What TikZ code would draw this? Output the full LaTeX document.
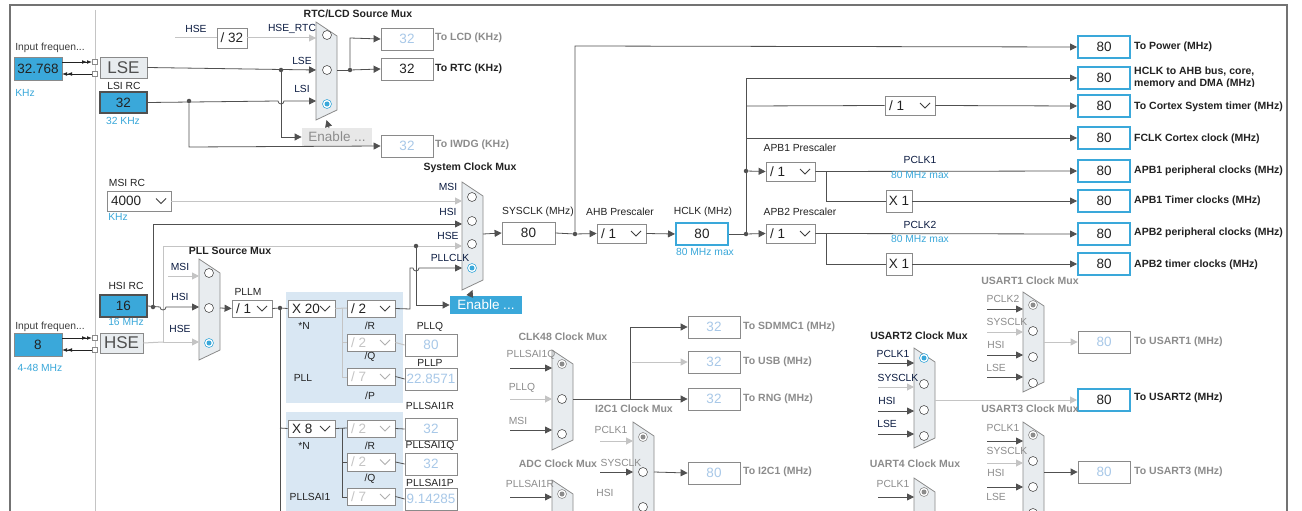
\documentclass[tikz,border=0pt]{standalone}
\usepackage{fontspec}
\setmainfont{Liberation Sans}
\usetikzlibrary{arrows.meta}
\definecolor{txt}{HTML}{222222}
\definecolor{dk}{HTML}{0A1A40}
\definecolor{gry}{HTML}{8C8C8C}
\definecolor{cy}{HTML}{3AA8DA}
\definecolor{lcy}{HTML}{A8C8E8}
\definecolor{ln}{HTML}{505050}
\definecolor{lln}{HTML}{C4C4C4}
\definecolor{bx}{HTML}{8A8A8A}
\definecolor{muxf}{HTML}{E8ECEF}
\definecolor{pan}{HTML}{D9E7F3}
\tikzset{
 lbl/.style={font=\fontsize{10.3}{11}\selectfont, text=txt, inner sep=0},
 blbl/.style={font=\bfseries\fontsize{10.5}{12}\selectfont, text=txt, inner sep=0},
 dlbl/.style={font=\fontsize{10.3}{11}\selectfont, text=dk, inner sep=0},
 glbl/.style={font=\bfseries\fontsize{10.5}{12}\selectfont, text=gry, inner sep=0},
 gl/.style={font=\fontsize{10.3}{11}\selectfont, text=gry, inner sep=0},
 clbl/.style={font=\fontsize{10.3}{11}\selectfont, text=cy, inner sep=0},
 box/.style={draw=bx, fill=white, line width=0.8pt, inner sep=0, font=\fontsize{13.5}{14}\selectfont, text=txt},
 gbox/.style={box, text=lcy},
 obox/.style={box, draw=cy, line width=2pt},
 bbox/.style={box, fill=cy, draw=bx, text=txt},
 bbox2/.style={box, fill=cy, draw=ln, line width=1.5pt, text=txt},
 sbox/.style={box, fill=muxf, draw=bx, font=\fontsize{17}{18}\selectfont, text=ln},
 ar/.style={draw=ln, line width=0.8pt, -{Triangle[length=7pt,width=7pt]}},
 la/.style={draw=lln, line width=1pt, -{Triangle[length=7pt,width=7pt]}},
 l/.style={draw=ln, line width=0.8pt},
 ll/.style={draw=lln, line width=1pt},
 mux/.style={draw=bx, fill=muxf, line width=0.8pt},
 dot/.style={fill=ln, circle, inner sep=0, minimum size=4.5pt},
 dbl/.style={txt, line width=0.8pt, -{Latex[length=5pt] Latex[length=5pt]}},
}
\newcommand\bxt[7][box]{\node[#1, minimum width={(#4-#2)*1pt}, minimum height={(#5-#3)*1pt}] (#6) at ({(#2+#4)/2},{(#3+#5)/2}) {#7};}
\newcommand\dd[7]{\node[box, text=#7, draw=bx, minimum width={(#3-#1)*1pt}, minimum height={(#4-#2)*1pt}] (#5) at ({(#1+#3)/2},{(#2+#4)/2}) {};
 \node[anchor=west, inner sep=0, font=\fontsize{13.5}{14}\selectfont, text=#7] at ({#1+4},{(#2+#4)/2}) {#6};
 \draw[draw=#7!70!gray, line width=0.8pt] ({#3-15},{(#2+#4)/2-2.5}) -- ({#3-10},{(#2+#4)/2+2.5}) -- ({#3-5},{(#2+#4)/2-2.5});}
\newcommand\muxs[4]{\draw[mux] (#1,#2) -- ({#1+21},{#2+14}) -- ({#1+21},{#3-10}) -- (#1,#3) -- cycle; \coordinate (#4) at ({#1+10.5},#3);}
\newcommand\rad[2]{\draw[draw=ln, fill=white, line width=0.6pt] (#1,#2) circle (4.5);}
\newcommand\rads[3]{\draw[draw=#3, fill=white, line width=0.6pt] (#1,#2) circle (4.5); \fill[#3] (#1,#2) circle (2.5);}
\begin{document}
\begin{tikzpicture}[x=1pt,y=-1pt]
\useasboundingbox (0,0) rectangle (1302,511);
\clip (0,0) rectangle (1302,511);
\fill[white] (0,0) rectangle (1302,511);
\draw[draw=ln!80, line width=2pt] (10,520) -- (10,5) -- (1287,5) -- (1287,520);
\draw[draw=lln, line width=1pt] (95,10) -- (95,511);

% ===== LSE / LSI =====
\node[lbl, gray!30!txt] at (50,48) {Input frequen...};
\bxt[bbox]{14}{57}{62}{80}{in1}{32.768}
\node[clbl] at (25,93) {KHz};
\draw[dbl] (62,62) -- (92,62);
\draw[dbl] (92,74) -- (62,74);
\draw[bx, fill=white] (92.5,59.5) rectangle (97.5,64.5);
\draw[bx, fill=white] (92.5,71.5) rectangle (97.5,76.5);
\bxt[sbox]{100}{57}{147}{78}{lse}{LSE}
\node[lbl] at (124,86) {LSI RC};
\bxt[bbox2]{100}{92}{147}{113}{lsi}{32}
\node[clbl] at (123,121) {32 KHz};

\node[dlbl] at (196,29) {HSE};
\bxt{217}{28}{247}{48}{d32}{/ 32}
\node[dlbl] at (292,29) {HSE\_RTC};
\draw[ll] (175,38) -- (d32.west);
\draw[la] (d32.east) -- (316,38);
\muxs{316}{22}{120}{rtcb}
\node[blbl] at (358,14) {RTC/LCD Source Mux};
\rad{327}{35}\rad{327}{70}\rads{327}{104}{cy}
\draw[ar] (lse.east) -- (316,70);
\node[dlbl] at (302,61) {LSE};
\node[dlbl] at (302,89) {LSI};
\draw[ar] (lsi.east) -- (278,101) arc (180:0:3) -- (284,101) -- (316,101);
\node[dot] (dlse) at (281,70) {};
\node[dot] (dlsi) at (189,101) {};
\bxt[box, fill=gray!18, draw=none, text=gry]{302}{128}{372}{146}{en1}{Enable ...}
\draw[ar] (dlse) -- (281,137) -- (en1.west);
\draw[ar] (329,128) -- (rtcb);
\bxt[gbox]{381}{135}{433}{157}{iwdg}{32}
\draw[ar] (dlsi) -- (189,147) -- (iwdg.west);
\node[glbl, anchor=west] at (435,145) {To IWDG (KHz)};
\bxt[gbox]{381}{28}{433}{50}{lcd}{32}
\bxt{381}{58}{433}{80}{rtc}{32}
\node[dot] (drtc) at (350,70) {};
\draw[l] (337,70) -- (drtc);
\draw[ar] (drtc) -- (rtc.west);
\draw[ar] (drtc) -- (350,38) -- (lcd.west);
\node[glbl, anchor=west] at (435,38) {To LCD (KHz)};
\node[blbl, anchor=west] at (435,69) {To RTC (KHz)};

% ===== MSI / system mux =====
\node[lbl] at (127,183) {MSI RC};
\dd{107}{191}{171}{211}{msi}{4000}{txt}
\node[clbl] at (118,217) {KHz};
\muxs{462}{182}{290}{sysb}
\node[blbl] at (470,168) {System Clock Mux};
\rad{472}{197}\rad{472}{221}\rad{472}{244}\rads{472}{268}{cy}
\node[dlbl] at (448,187) {MSI};
\node[dlbl] at (448,212) {HSI};
\node[dlbl] at (448,236) {HSE};
\node[dlbl] at (450,258) {PLLCLK};
\draw[la] (msi.east) -- (462,201);

% HSI / HSE sources
\node[lbl] at (126,286) {HSI RC};
\bxt[bbox2]{100}{295}{147}{317}{hsi}{16}
\node[clbl] at (126,322) {16 MHz};
\node[lbl, gray!30!txt] at (50,327) {Input frequen...};
\bxt[bbox]{14}{333}{62}{356}{in2}{8}
\node[clbl] at (40,368) {4-48 MHz};
\draw[dbl] (62,338) -- (92,338);
\draw[dbl] (92,350) -- (62,350);
\draw[bx, fill=white] (92.5,335.5) rectangle (97.5,340.5);
\draw[bx, fill=white] (92.5,347.5) rectangle (97.5,352.5);
\bxt[sbox]{100}{333}{143}{353}{hse}{HSE}

\node[dot] (dhsi) at (153,307) {};
\draw[ar] (dhsi) -- (153,224) -- (462,224);
\draw[ll] (hse.east) -- (163,342);
\draw[la] (163,342) -- (163,246) -- (462,246);
\node[dot] (dhse) at (416,246) {};

% PLL source mux
\muxs{199}{259}{360}{pllsb}
\node[blbl] at (230,251) {PLL Source Mux};
\rad{209}{273}\rad{209}{308}\rads{209}{343}{cy}
\node[dlbl] at (180,267) {MSI};
\node[dlbl] at (180,297) {HSI};
\node[dlbl] at (180,329) {HSE};
\draw[la] (168,276) -- (199,276);
\draw[ar] (hsi.east) -- (160,307) arc (180:0:3) -- (199,307);
\draw[la] (163,342) -- (199,342);

% PLLM
\node[lbl] at (248,292) {PLLM};
\dd{232}{300}{272}{317}{pllm}{/ 1}{txt}
\draw[ar] (220,308) -- (pllm.west);
\fill[pan] (286,292) rectangle (403,403);
\fill[pan] (286,412) rectangle (403,520);
\node[dot] (dpll) at (280,308) {};
\draw[l] (pllm.east) -- (dpll);
\dd{288}{300}{335}{317}{xn}{X 20}{txt}
\draw[l] (dpll) -- (xn.west);
\draw[l] (dpll) -- (280,520);
\dd{288}{420}{335}{437}{xn2}{X 8}{txt}
\draw[l] (280,428) -- (xn2.west);
\node[lbl] at (304,326) {*N};
\node[lbl] at (303,378) {PLL};
\node[lbl] at (304,446) {*N};
\node[lbl] at (310,497) {PLLSAI1};
\draw[ll] (xn.east) -- (347,308);
\draw[ll] (342,308) -- (342,377) -- (347,377);
\draw[ll] (342,342) -- (347,342);
\dd{347}{300}{395}{317}{pr}{/ 2}{txt}
\dd{347}{334}{395}{351}{pq}{/ 2}{lln}
\dd{347}{368}{395}{385}{pp}{/ 7}{lln}
\node[lbl] at (370,326) {/R};
\node[lbl] at (370,357) {/Q};
\node[lbl] at (370,396) {/P};
\draw[l] (xn2.east) -- (347,428);
\draw[l] (342,428) -- (342,497) -- (347,497);
\draw[l] (342,462) -- (347,462);
\dd{347}{420}{395}{437}{sr}{/ 2}{lln}
\dd{347}{453}{395}{471}{sq}{/ 2}{lln}
\dd{347}{488}{395}{505}{sp}{/ 7}{lln}
\node[lbl] at (370,446) {/R};
\node[lbl] at (370,479) {/Q};
\node[lbl] at (430,327) {PLLQ};
\bxt[gbox]{405}{334}{457}{356}{pllq}{80}
\node[lbl] at (430,363) {PLLP};
\bxt[gbox]{405}{368}{457}{390}{pllp}{22.8571}
\draw[ll] (pq.east) -- (pllq.west);
\draw[l] (pp.east) -- (pllp.west);
\node[lbl] at (430,406) {PLLSAI1R};
\bxt[gbox]{405}{418}{457}{440}{s1r}{32}
\node[lbl] at (430,446) {PLLSAI1Q};
\bxt[gbox]{405}{453}{457}{475}{s1q}{32}
\node[lbl] at (430,483) {PLLSAI1P};
\bxt[gbox]{405}{488}{457}{510}{s1p}{9.14285}
\draw[l] (sr.east) -- (s1r.west);
\draw[l] (sq.east) -- (s1q.west);
\draw[l] (sp.east) -- (s1p.west);
% PLLCLK path
\draw[ar] (pr.east) -- (410,309) -- (410,268) -- (413,268) arc (180:0:3) -- (462,268);
\bxt[box, fill=cy, draw=none, text=white]{450}{296}{522}{314}{en2}{Enable ...}
\draw[ar] (dhse) -- (416,305) -- (en2.west);
\draw[ar] (470,296) -- (sysb);

% SYSCLK & AHB
\node[lbl] at (538,212) {SYSCLK (MHz)};
\bxt{502}{222}{555}{244}{sysclk}{80}
\draw[ar] (483,234) -- (sysclk.west);
\node[dot] (dsys) at (575,234) {};
\draw[l] (sysclk.east) -- (dsys);
\node[lbl] at (620,212) {AHB Prescaler};
\dd{597}{224}{646}{243}{ahb}{/ 1}{txt}
\draw[ar] (dsys) -- (ahb.west);
\node[lbl] at (703,212) {HCLK (MHz)};
\bxt[obox]{676}{223}{728}{245}{hclk}{80}
\node[clbl] at (705,252) {80 MHz max};
\draw[ar] (ahb.east) -- (hclk.west);
\node[dot] (dh) at (746,234) {};
\draw[l] (hclk.east) -- (dh);

\foreach \n/\ya/\yb in {o1/36/58,o2/67/89,o3/95/117,o4/127/149,o5/160/182,o6/190/212,o7/223/245,o8/253/275}{
 \bxt[obox]{1078}{\ya}{1130}{\yb}{\n}{80}}
\draw[ar] (dsys) -- (575,46) -- (o1.west);
\draw[l] (dh) -- (746,78);
\draw[ar] (746,78) -- (o2.west);
\dd{885}{96}{935}{115}{cx}{/ 1}{txt}
\draw[l] (746,106) -- (cx.west);
\draw[ar] (cx.east) -- (o3.west);
\draw[ar] (746,138) -- (o4.west);
\node[lbl] at (800,148) {APB1 Prescaler};
\node[lbl] at (800,212) {APB2 Prescaler};
\dd{766}{162}{815}{181}{apb1}{/ 1}{txt}
\dd{766}{224}{815}{243}{apb2}{/ 1}{txt}
\node[dot] (da1) at (746,171) {};
\draw[ar] (da1) -- (apb1.west);
\draw[ar] (dh) -- (apb2.west);
\draw[ar] (apb1.east) -- (o5.west);
\draw[ar] (apb2.east) -- (o7.west);
\node[dlbl] at (920,160) {PCLK1};
\node[clbl] at (920,175) {80 MHz max};
\node[dlbl] at (920,225) {PCLK2};
\node[clbl] at (920,239) {80 MHz max};
\bxt{886}{190}{912}{212}{t1}{X 1}
\bxt{886}{253}{912}{275}{t2}{X 1}
\draw[l] (826,171) -- (826,201) -- (t1.west);
\draw[l] (826,234) -- (826,264) -- (t2.west);
\draw[ar] (t1.east) -- (o6.west);
\draw[ar] (t2.east) -- (o8.west);
\node[blbl, anchor=west] at (1134,47) {To Power (MHz)};
\begin{scope}
\clip (1133,65) rectangle (1290,87);
\node[blbl, anchor=north west, align=left] at (1134,67) {HCLK to AHB bus, core,\\[0pt]memory and DMA (MHz)};
\end{scope}
\node[blbl, anchor=west] at (1134,107) {To Cortex System timer (MHz)};
\node[blbl, anchor=west] at (1134,139) {FCLK Cortex clock (MHz)};
\node[blbl, anchor=west] at (1134,171) {APB1 peripheral clocks (MHz)};
\node[blbl, anchor=west] at (1134,201) {APB1 Timer clocks (MHz)};
\node[blbl, anchor=west] at (1134,233) {APB2 peripheral clocks (MHz)};
\node[blbl, anchor=west] at (1134,265) {APB2 timer clocks (MHz)};

% ===== CLK48 =====
\node[glbl] at (563,337) {CLK48 Clock Mux};
\muxs{552}{350}{450}{c48b}
\rads{562}{364}{gry}\rad{562}{399}\rad{562}{434}
\node[gl] at (531,355) {PLLSAI1Q};
\node[gl] at (522,388) {PLLQ};
\node[gl] at (518,421) {MSI};
\draw[ar] (510,368) -- (552,368);
\draw[la] (510,399) -- (552,399);
\draw[ar] (510,430) -- (552,430);
\bxt[gbox]{688}{316}{740}{338}{sdm}{32}
\bxt[gbox]{688}{351}{740}{373}{usb}{32}
\bxt[gbox]{688}{388}{740}{410}{rng}{32}
\draw[l] (573,399) -- (630,399);
\draw[ar] (630,399) -- (rng.west);
\draw[ar] (630,399) -- (630,327) -- (sdm.west);
\draw[la] (632,362) -- (usb.west);
\node[glbl, anchor=west] at (743,327) {To SDMMC1 (MHz)};
\node[glbl, anchor=west] at (743,362) {To USB (MHz)};
\node[glbl, anchor=west] at (743,399) {To RNG (MHz)};
% I2C1
\node[glbl] at (634,409) {I2C1 Clock Mux};
\muxs{633}{422}{530}{i2cb}
\rads{643}{437}{gry}\rad{643}{472}\rad{643}{507}
\node[gl] at (611,430) {PCLK1};
\node[gl] at (621,463) {SYSCLK};
\node[gl] at (605,493) {HSI};
\draw[la] (600,441) -- (633,441);
\draw[ar] (600,472) -- (633,472);
\bxt[gbox]{688}{462}{740}{484}{i2c}{80}
\draw[ar] (654,472) -- (i2c.west);
\node[glbl, anchor=west] at (743,472) {To I2C1 (MHz)};
% ADC
\node[glbl] at (558,464) {ADC Clock Mux};
\muxs{552}{480}{580}{adcb}
\rads{562}{494}{gry}
\node[gl] at (530,484) {PLLSAI1R};
\draw[ar] (510,497) -- (552,497);

% ===== USART =====
\node[blbl] at (919,336) {USART2 Clock Mux};
\muxs{914}{348}{448}{u2b}
\rads{924}{358}{cy}\rad{924}{384}\rad{924}{410}\rad{924}{436}
\node[dlbl] at (893,354) {PCLK1};
\node[dlbl] at (898,378) {SYSCLK};
\node[dlbl] at (887,401) {HSI};
\node[dlbl] at (887,424) {LSE};
\draw[ar] (878,363) -- (914,363);
\draw[la] (878,387) -- (914,387);
\draw[ar] (878,411) -- (914,411);
\draw[ar] (878,434) -- (914,434);
\bxt[obox]{1078}{389}{1130}{411}{u2}{80}
\draw[la] (935,400) -- (u2.west);
\node[blbl, anchor=west] at (1134,398) {To USART2 (MHz)};

\node[glbl] at (1030,281) {USART1 Clock Mux};
\muxs{1023}{292}{392}{u1b}
\rads{1033}{305}{gry}\rad{1033}{331}\rad{1033}{357}\rad{1033}{383}
\node[gl] at (1003,299) {PCLK2};
\node[gl] at (1007,322) {SYSCLK};
\node[gl] at (996,345) {HSI};
\node[gl] at (996,368) {LSE};
\draw[ar] (987,309) -- (1023,309);
\draw[la] (987,332) -- (1023,332);
\draw[ar] (987,355) -- (1023,355);
\draw[ar] (987,377) -- (1023,377);
\bxt[gbox]{1078}{331}{1130}{353}{u1}{80}
\draw[la] (1044,342) -- (u1.west);
\node[glbl, anchor=west] at (1134,342) {To USART1 (MHz)};

\node[glbl] at (1030,409) {USART3 Clock Mux};
\muxs{1023}{422}{522}{u3b}
\rads{1033}{435}{gry}\rad{1033}{461}\rad{1033}{487}\rad{1033}{513}
\node[gl] at (1003,428) {PCLK1};
\node[gl] at (1007,451) {SYSCLK};
\node[gl] at (996,473) {HSI};
\node[gl] at (996,497) {LSE};
\draw[ar] (987,441) -- (1023,441);
\draw[la] (987,463) -- (1023,463);
\draw[ar] (987,487) -- (1023,487);
\bxt[gbox]{1078}{461}{1130}{483}{u3}{80}
\draw[ar] (1044,472) -- (u3.west);
\node[glbl, anchor=west] at (1134,472) {To USART3 (MHz)};

\node[glbl] at (915,464) {UART4 Clock Mux};
\muxs{914}{478}{578}{u4b}
\rads{924}{492}{gry}
\node[gl] at (893,484) {PCLK1};
\draw[ar] (878,497) -- (914,497);
\end{tikzpicture}
\end{document}
